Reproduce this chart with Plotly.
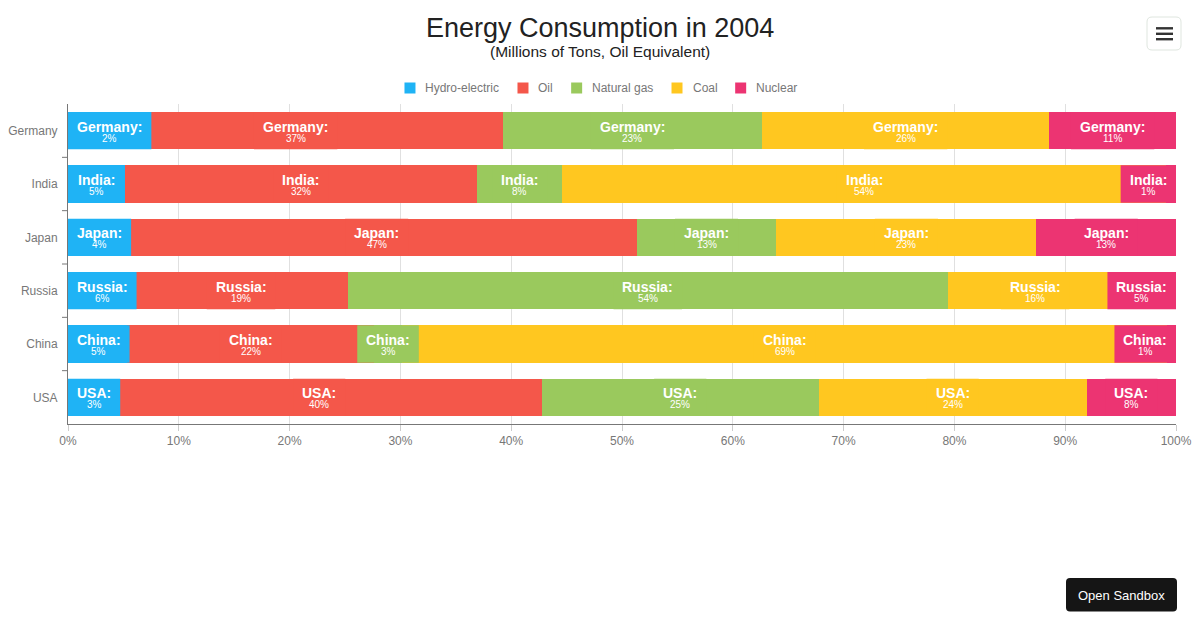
import plotly.graph_objects as go

# ---------------- data ----------------
countries = ["USA", "China", "Russia", "Japan", "India", "Germany"]
hydro = [59.8, 74.2, 40.0, 22.6, 19.2, 6.1]
oil = [937.6, 308.6, 128.5, 241.5, 119.3, 123.6]
gas = [582.0, 35.1, 361.8, 64.9, 28.9, 77.3]
coal = [564.3, 956.9, 105.0, 120.8, 204.4, 85.7]
nuclear = [187.9, 11.3, 32.4, 64.8, 3.4, 37.8]
series_names = ["Hydro-electric", "Oil", "Natural gas", "Coal", "Nuclear"]
x_tick_values = [0, 10, 20, 30, 40, 50, 60, 70, 80, 90, 100]
title_text = "Energy Consumption in 2004"
subtitle_text = "(Millions of Tons, Oil Equivalent)"

# ---------------- style ----------------
colors = ["#1FB3F5", "#F4574A", "#9AC95D", "#FFC720", "#EC3472"]
FONT = "Liberation Sans, Arial, Helvetica, sans-serif"
W, H = 1200, 630
ML, MR, MT, MB = 68, 24, 104, 206
PW, PH = W - ML - MR, H - MT - MB
BAR_FRAC = 0.7

# Arial advance widths (per 1000 em), used for box / legend sizing
BOLD_W = {"G": 778, "e": 556, "r": 389, "m": 889, "a": 556, "n": 611, "y": 556,
          ":": 333, "I": 278, "d": 611, "i": 278, "J": 556, "p": 611, "R": 722,
          "u": 611, "s": 556, "C": 722, "h": 611, "U": 722, "S": 667, "A": 722}
REG_W = {"H": 722, "y": 500, "d": 556, "r": 333, "o": 556, "-": 333, "e": 556,
         "l": 222, "c": 500, "t": 278, "i": 222, "O": 778, "N": 722, "a": 556,
         "u": 556, " ": 278, "g": 556, "s": 500, "C": 722}


def text_w(s, size, table):
    return sum(table.get(ch, 600) for ch in s) * size / 1000.0


def px2paper_x(px):
    return (px - ML) / PW


def px2paper_y(py):
    return (H - MB - py) / PH


def rounded_rect(x0, y0, x1, y1, r):
    X = px2paper_x
    Y = px2paper_y
    return (f"M{X(x0 + r)},{Y(y0)} L{X(x1 - r)},{Y(y0)} Q{X(x1)},{Y(y0)} {X(x1)},{Y(y0 + r)} "
            f"L{X(x1)},{Y(y1 - r)} Q{X(x1)},{Y(y1)} {X(x1 - r)},{Y(y1)} "
            f"L{X(x0 + r)},{Y(y1)} Q{X(x0)},{Y(y1)} {X(x0)},{Y(y1 - r)} "
            f"L{X(x0)},{Y(y0 + r)} Q{X(x0)},{Y(y0)} {X(x0 + r)},{Y(y0)} Z")


series_values = [hydro, oil, gas, coal, nuclear]

fig = go.Figure()
for name, vals, col in zip(series_names, series_values, colors):
    fig.add_trace(go.Bar(
        y=countries, x=vals, name=name, orientation="h",
        marker=dict(color=col, line=dict(width=0)),
        hoverinfo="skip", showlegend=False,
    ))

shapes = []
annotations = []

# y-axis ticks between categories (interior boundaries only)
for bi in range(len(countries) - 1):
    shapes.append(dict(type="line", xref="paper", yref="y", xsizemode="pixel", xanchor=0,
                       x0=-6, x1=0, y0=bi + 0.5, y1=bi + 0.5,
                       line=dict(color="#777777", width=1), layer="above"))

# data labels with coloured background boxes
px_per_unit = PW / 100.0
for ci, country in enumerate(countries):
    total = sum(sv[ci] for sv in series_values)
    cum = 0.0
    for si, sv in enumerate(series_values):
        pct = sv[ci] / total * 100.0
        center = cum + pct / 2.0
        cum += pct
        label = f"{country}:"
        bw = text_w(label, 14, BOLD_W) + 18
        cpx = center * px_per_unit
        shift = 0.0
        if cpx - bw / 2 < 0:
            shift = bw / 2 - cpx
        elif cpx + bw / 2 > PW:
            shift = PW - (cpx + bw / 2)
        shapes.append(dict(
            type="rect", xref="x", yref="y", xsizemode="pixel", xanchor=center,
            x0=-bw / 2 + shift, x1=bw / 2 + shift,
            y0=ci - BAR_FRAC / 2, y1=ci + BAR_FRAC / 2,
            fillcolor=colors[si], line=dict(width=0), layer="above",
        ))
        annotations.append(dict(
            x=center, y=country, xref="x", yref="y", showarrow=False,
            text=f"<b>{label}</b>", xshift=shift, yshift=4,
            font=dict(family=FONT, size=14, color="#ffffff"),
        ))
        annotations.append(dict(
            x=center, y=country, xref="x", yref="y", showarrow=False,
            text=f"{round(pct)}%", xshift=shift, yshift=-7.5,
            font=dict(family=FONT, size=10, color="#ffffff"),
        ))

# custom legend (square markers + labels), centred on the page
item_w = [19 + text_w(n, 12, REG_W) for n in series_names]
total_w = sum(item_w) + 20 * (len(series_names) - 1)
lx = W / 2 - total_w / 2
for name, col, iw in zip(series_names, colors, item_w):
    shapes.append(dict(type="rect", xref="paper", yref="paper",
                       x0=px2paper_x(lx), x1=px2paper_x(lx + 11),
                       y0=px2paper_y(82.5), y1=px2paper_y(93.5),
                       fillcolor=col, line=dict(width=0), layer="above"))
    annotations.append(dict(
        x=px2paper_x(lx + 19), y=px2paper_y(88), xref="paper", yref="paper",
        showarrow=False, text=name, xanchor="left", yanchor="middle",
        font=dict(family=FONT, size=12, color="#777777"),
    ))
    lx += iw + 20

# title and subtitle (centred on the page)
annotations.append(dict(
    x=px2paper_x(W / 2), y=px2paper_y(28), xref="paper", yref="paper", showarrow=False,
    text=title_text, yanchor="middle", xanchor="center",
    font=dict(family=FONT, size=27, color="#222222"),
))
annotations.append(dict(
    x=px2paper_x(W / 2), y=px2paper_y(51), xref="paper", yref="paper", showarrow=False,
    text=subtitle_text, yanchor="middle", xanchor="center",
    font=dict(family=FONT, size=15.5, color="#222222"),
))

# hamburger menu button
shapes.append(dict(type="path", xref="paper", yref="paper",
                   path=rounded_rect(1147, 17, 1181, 50, 5),
                   fillcolor="#ffffff", line=dict(color="#dfe6df", width=1), layer="above"))
for ly in [28.3, 33.8, 39.2]:
    shapes.append(dict(type="line", xref="paper", yref="paper",
                       x0=px2paper_x(1156), x1=px2paper_x(1173),
                       y0=px2paper_y(ly), y1=px2paper_y(ly),
                       line=dict(color="#333333", width=2.4), layer="above"))

# Open Sandbox button
shapes.append(dict(type="path", xref="paper", yref="paper",
                   path=rounded_rect(1066, 578, 1177, 611.5, 4),
                   fillcolor="#151515", line=dict(width=0), layer="above"))
annotations.append(dict(
    x=px2paper_x(1121.5), y=px2paper_y(595), xref="paper", yref="paper",
    showarrow=False, text="Open Sandbox", xanchor="center", yanchor="middle",
    font=dict(family=FONT, size=13, color="#ffffff"),
))

fig.update_layout(
    width=W, height=H, autosize=False,
    margin=dict(l=ML, r=MR, t=MT, b=MB, pad=0, autoexpand=False),
    paper_bgcolor="#ffffff", plot_bgcolor="#ffffff",
    barmode="stack", barnorm="percent", bargap=1 - BAR_FRAC,
    font=dict(family=FONT, color="#777777", size=12),
    showlegend=False,
    xaxis=dict(range=[0, 100], tickvals=x_tick_values,
               ticktext=[f"{v}%" for v in x_tick_values],
               showgrid=True, gridcolor="#e0e0e0", gridwidth=1, zeroline=False,
               showline=True, linecolor="#777777", linewidth=1,
               ticks="outside", ticklen=6, tickcolor="#cccccc",
               tickfont=dict(family=FONT, size=12, color="#777777"),
               automargin=False, fixedrange=True),
    yaxis=dict(type="category", categoryorder="array", categoryarray=countries,
               showgrid=False, zeroline=False,
               showline=True, linecolor="#777777", linewidth=1,
               ticks="outside", ticklen=6, tickcolor="rgba(0,0,0,0)",
               ticklabelstandoff=1,
               tickfont=dict(family=FONT, size=12, color="#777777"),
               automargin=False, fixedrange=True),
    shapes=shapes,
    annotations=annotations,
)

fig.write_html(
    "out.html",
    config={"displayModeBar": False},
    post_script="document.body.style.margin='0';document.body.style.padding='0';",
)
